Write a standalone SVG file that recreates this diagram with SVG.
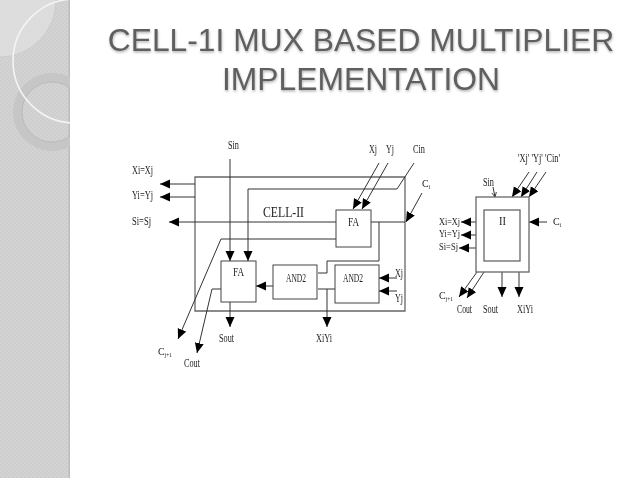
<svg xmlns="http://www.w3.org/2000/svg" width="638" height="478" viewBox="0 0 638 478">
<style>
.w{fill:none;stroke:#333;stroke-width:1}
.o{fill:none;stroke:#666;stroke-width:1.3}
.a{marker-end:url(#ah)}
.b{fill:#fff;stroke:#444;stroke-width:1}
.t{font-family:"Liberation Serif","Times New Roman",serif;font-size:12px;fill:#222}
.c{font-size:10px}
.s{font-size:5.500px}
.h{font-family:"Liberation Sans",Arial,sans-serif;font-size:31.800px;fill:#5f5f5f;text-anchor:middle;filter:url(#sh)}
</style>
<defs>
<marker id="ah" markerUnits="userSpaceOnUse" markerWidth="11" markerHeight="10" refX="10" refY="4.500" orient="auto"><path d="M0 0L10 4.500L0 9z" fill="#000"/></marker>
<marker id="sm" markerUnits="userSpaceOnUse" markerWidth="6" markerHeight="6" refX="5" refY="2.500" orient="auto"><path d="M0 0L5 2.500L0 5" fill="none" stroke="#222" stroke-width="0.800"/></marker>
<pattern id="dots" width="4" height="4" patternUnits="userSpaceOnUse"><rect width="4" height="4" fill="#d3d3d3"/><rect width="2" height="2" fill="#cecece"/><rect x="2" y="2" width="2" height="2" fill="#cecece"/></pattern>
<clipPath id="side"><rect width="70" height="478"/></clipPath>
<filter id="sh" x="-5%" y="-20%" width="110%" height="150%"><feDropShadow dx="0.500" dy="1.500" stdDeviation="1" flood-color="#000" flood-opacity="0.300"/></filter>
<filter id="soft" x="-2%" y="-2%" width="104%" height="104%"><feGaussianBlur stdDeviation="0.350"/></filter>
</defs>
<rect width="638" height="478" fill="#fff"/>
<g id="sidebar" clip-path="url(#side)">
<rect width="70" height="478" fill="url(#dots)"/>
<rect x="68.500" width="1.500" height="478" fill="#bcbcbc"/>
<path d="M0 0H56A56 57 0 0 1 0 57Z" fill="#e0e0e0" opacity="0.800"/>
<path d="M56 0A56 57 0 0 1 0 57" fill="none" stroke="#c8c8c8" stroke-width="0.800"/>
<circle cx="52" cy="112" r="34.500" fill="none" stroke="#c6c6c6" stroke-width="9"/>
<circle cx="52" cy="112" r="30" fill="none" stroke="#bababa" stroke-width="1"/>
<circle cx="75" cy="61" r="62" fill="none" stroke="#f4f4f4" stroke-width="1.600"/>
</g>
<text class="h" x="361" y="51">CELL-1I MUX BASED MULTIPLIER</text>
<text class="h" x="361" y="90">IMPLEMENTATION</text>
<g filter="url(#soft)">
<g id="connectors">
<path class="o" d="M195 311V177H405V311Z"/>
<path class="w a" d="M195 184H160"/>
<path class="w a" d="M195 197H160"/>
<path class="w a" d="M336 222H169"/>
<path class="w a" d="M230 159V261"/>
<path class="w a" d="M414 163L397 189H248V261"/>
<path class="w a" d="M379 163L353 209"/>
<path class="w a" d="M388 163L362 209"/>
<path class="w" d="M371 222H405"/>
<path class="w a" d="M422 193L406 222"/>
<path class="w a" d="M336 239H221L178 339"/>
<path class="w a" d="M221 289H212L197 353"/>
<path class="w a" d="M230 302V327"/>
<path class="w a" d="M273 286H256"/>
<path class="w" d="M379 222V261H327V273H318"/>
<path class="w" d="M318 289H335"/>
<path class="w a" d="M327 289V327"/>
<path class="w a" d="M397 278H379"/>
<path class="w a" d="M397 291H379"/>
<path class="w" style="marker-end:url(#sm)" d="M493 187L495 197"/>
<path class="w a" d="M529 172L512 197"/>
<path class="w a" d="M537 172L521 197"/>
<path class="w a" d="M546 172L529 197"/>
<path class="w a" d="M547 222H529"/>
<path class="w a" d="M476 222H461"/>
<path class="w a" d="M476 235H461"/>
<path class="w a" d="M476 248H459"/>
<path class="w a" d="M477 272L459 297"/>
<path class="w a" d="M484 272L467 298"/>
<path class="w a" d="M502 272V297"/>
<path class="w a" d="M519 272V297"/>
</g>
<g id="fa-top"><rect class="b" x="336" y="210" width="35" height="37"/><text class="t" x="348" y="226" textLength="11" lengthAdjust="spacingAndGlyphs">FA</text></g>
<g id="fa-bottom"><rect class="b" x="221" y="261" width="35" height="41"/><text class="t" x="233" y="276" textLength="11" lengthAdjust="spacingAndGlyphs">FA</text></g>
<g id="and2-mid"><rect class="b" x="273" y="265" width="44" height="34"/><text class="t" x="286" y="282" textLength="20" lengthAdjust="spacingAndGlyphs">AND2</text></g>
<g id="and2-right"><rect class="b" x="335" y="265" width="44" height="38"/><text class="t" x="343" y="282" textLength="20" lengthAdjust="spacingAndGlyphs">AND2</text></g>
<g id="cell-block"><rect class="o" x="476" y="197" width="53" height="75"/><rect class="o" x="484" y="210" width="36" height="51"/><text class="t" x="499" y="225" textLength="7" lengthAdjust="spacingAndGlyphs">II</text></g>
<g id="labels">
<text class="t" x="228" y="149" textLength="11" lengthAdjust="spacingAndGlyphs">Sin</text>
<text class="t" x="132" y="174" textLength="21" lengthAdjust="spacingAndGlyphs">Xi=Xj</text>
<text class="t" x="132" y="199" textLength="21" lengthAdjust="spacingAndGlyphs">Yi=Yj</text>
<text class="t" x="132" y="225" textLength="19" lengthAdjust="spacingAndGlyphs">Si=Sj</text>
<text class="t" style="font-size:15px" x="263" y="217" textLength="41" lengthAdjust="spacingAndGlyphs">CELL-II</text>
<text class="t" x="369" y="153" textLength="8" lengthAdjust="spacingAndGlyphs">Xj</text>
<text class="t" x="386" y="153" textLength="8" lengthAdjust="spacingAndGlyphs">Yj</text>
<text class="t" x="413" y="153" textLength="12" lengthAdjust="spacingAndGlyphs">Cin</text>
<text class="t c" x="422" y="187">C<tspan class="s" dy="2">i</tspan></text>
<text class="t" x="395" y="277" textLength="8" lengthAdjust="spacingAndGlyphs">Xj</text>
<text class="t" x="395" y="302" textLength="8" lengthAdjust="spacingAndGlyphs">Yj</text>
<text class="t c" x="158" y="355">C<tspan class="s" dy="2">j+1</tspan></text>
<text class="t" x="184" y="367" textLength="16" lengthAdjust="spacingAndGlyphs">Cout</text>
<text class="t" x="219" y="342" textLength="15" lengthAdjust="spacingAndGlyphs">Sout</text>
<text class="t" x="316" y="342" textLength="16" lengthAdjust="spacingAndGlyphs">XiYi</text>
<text class="t" x="518" y="162" textLength="42" lengthAdjust="spacingAndGlyphs">'Xj' 'Yj' 'Cin'</text>
<text class="t" x="483" y="186" textLength="11" lengthAdjust="spacingAndGlyphs">Sin</text>
<text class="t c" x="553" y="225">C<tspan class="s" dy="2">i</tspan></text>
<text class="t c" x="439" y="225" textLength="21" lengthAdjust="spacingAndGlyphs">Xi=Xj</text>
<text class="t c" x="439" y="237" textLength="21" lengthAdjust="spacingAndGlyphs">Yi=Yj</text>
<text class="t c" x="439" y="250" textLength="19" lengthAdjust="spacingAndGlyphs">Si=Sj</text>
<text class="t c" x="439" y="299">C<tspan class="s" dy="2">j+1</tspan></text>
<text class="t" x="457" y="313" textLength="15" lengthAdjust="spacingAndGlyphs">Cout</text>
<text class="t" x="483" y="313" textLength="15" lengthAdjust="spacingAndGlyphs">Sout</text>
<text class="t" x="517" y="313" textLength="16" lengthAdjust="spacingAndGlyphs">XiYi</text>
</g>
</g>
</svg>
